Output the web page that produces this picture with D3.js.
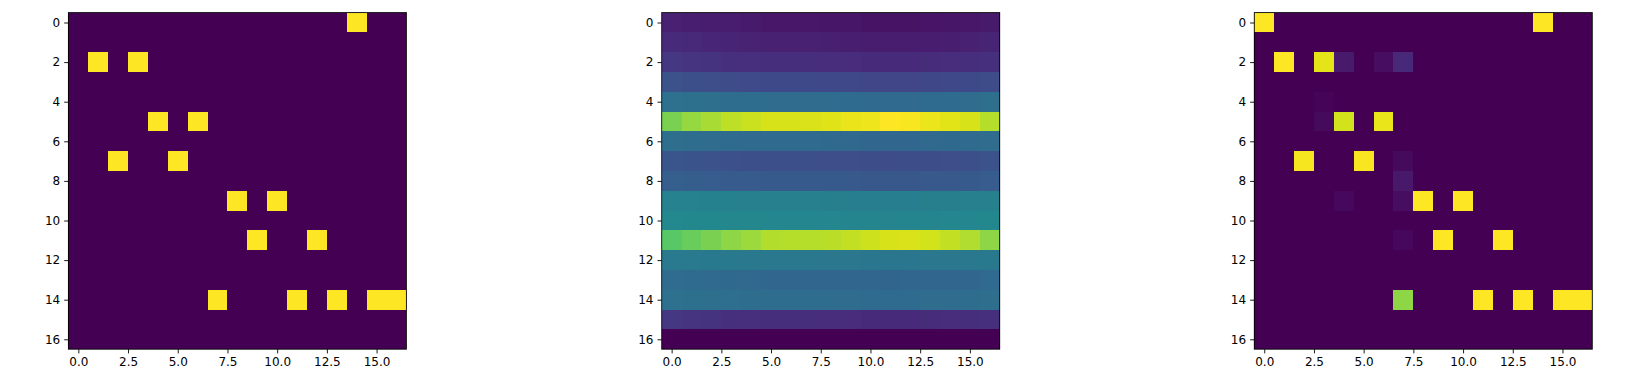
<!DOCTYPE html>
<html>
<head>
<meta charset="utf-8">
<script src="https://cdn.jsdelivr.net/npm/d3@7"></script>
<style>
  html, body { margin: 0; padding: 0; background: #fff; }
  svg { display: block; }
  .tick text { font-family: "DejaVu Sans", sans-serif; font-size: 12px; fill: #000; }
</style>
</head>
<body>
<svg id="chart" width="1644" height="383"></svg>
<script>
// ---- data ----
const N = 17;
const rowIndex = d3.range(N);          // matrix rows 0..16
const colIndex = d3.range(N);          // matrix columns 0..16
const xTickValues = [0, 2.5, 5, 7.5, 10, 12.5, 15];
const yTickValues = [0, 2, 4, 6, 8, 10, 12, 14, 16];

// Panel 1: binary matrix, non-zero cells as [row, col, value]
const leftCells = [
  [0, 14, 1],
  [2, 1, 1], [2, 3, 1],
  [5, 4, 1], [5, 6, 1],
  [7, 2, 1], [7, 5, 1],
  [9, 8, 1], [9, 10, 1],
  [11, 9, 1], [11, 12, 1],
  [14, 7, 1], [14, 11, 1], [14, 13, 1], [14, 15, 1], [14, 16, 1]
];

// Panel 2: dense matrix (row by row)
const middleRows = [
  [0.090,0.085,0.080,0.075,0.070,0.060,0.060,0.060,0.058,0.055,0.050,0.048,0.050,0.052,0.055,0.060,0.070],
  [0.120,0.110,0.105,0.100,0.095,0.090,0.090,0.090,0.088,0.085,0.080,0.078,0.080,0.082,0.085,0.090,0.100],
  [0.160,0.150,0.145,0.140,0.135,0.130,0.130,0.130,0.128,0.125,0.120,0.118,0.120,0.122,0.125,0.130,0.140],
  [0.250,0.240,0.235,0.230,0.225,0.220,0.220,0.220,0.218,0.215,0.210,0.208,0.210,0.212,0.215,0.220,0.230],
  [0.370,0.365,0.360,0.355,0.352,0.350,0.350,0.350,0.348,0.345,0.342,0.340,0.342,0.344,0.346,0.350,0.360],
  [0.800,0.840,0.870,0.900,0.920,0.940,0.940,0.945,0.950,0.965,0.975,1.000,0.990,0.970,0.955,0.940,0.890],
  [0.360,0.355,0.350,0.345,0.342,0.340,0.340,0.340,0.338,0.335,0.332,0.330,0.332,0.334,0.336,0.340,0.350],
  [0.260,0.255,0.250,0.245,0.242,0.240,0.240,0.240,0.238,0.235,0.232,0.230,0.232,0.234,0.236,0.240,0.250],
  [0.300,0.295,0.290,0.285,0.282,0.280,0.280,0.280,0.278,0.275,0.272,0.270,0.272,0.274,0.276,0.280,0.290],
  [0.440,0.438,0.436,0.434,0.432,0.430,0.430,0.430,0.428,0.426,0.424,0.422,0.424,0.426,0.428,0.430,0.435],
  [0.470,0.468,0.466,0.464,0.462,0.460,0.460,0.460,0.458,0.456,0.454,0.452,0.454,0.456,0.458,0.460,0.465],
  [0.740,0.770,0.800,0.830,0.850,0.885,0.890,0.890,0.895,0.910,0.925,0.940,0.945,0.930,0.910,0.880,0.830],
  [0.410,0.408,0.406,0.404,0.402,0.400,0.400,0.400,0.398,0.396,0.394,0.392,0.394,0.396,0.398,0.400,0.405],
  [0.350,0.345,0.342,0.338,0.335,0.332,0.332,0.332,0.330,0.328,0.326,0.324,0.326,0.328,0.330,0.332,0.340],
  [0.370,0.365,0.362,0.358,0.355,0.352,0.352,0.352,0.350,0.348,0.346,0.344,0.346,0.348,0.350,0.352,0.360],
  [0.160,0.150,0.145,0.140,0.135,0.130,0.130,0.130,0.128,0.125,0.120,0.118,0.120,0.122,0.125,0.130,0.140],
  [0.000,0.000,0.000,0.000,0.000,0.000,0.000,0.000,0.000,0.000,0.000,0.000,0.000,0.000,0.000,0.000,0.000]
];

// Panel 3: mostly zero matrix, non-zero cells as [row, col, value]
const rightCells = [
  [0, 0, 1.00], [0, 14, 1.00],
  [2, 1, 1.00], [2, 3, 0.96], [2, 4, 0.07], [2, 6, 0.035], [2, 7, 0.11],
  [4, 3, 0.01],
  [5, 3, 0.025], [5, 4, 0.93], [5, 6, 0.965],
  [7, 2, 0.985], [7, 5, 0.99], [7, 7, 0.025],
  [8, 7, 0.065],
  [9, 4, 0.02], [9, 7, 0.035], [9, 8, 1.00], [9, 10, 1.00],
  [11, 7, 0.02], [11, 9, 1.00], [11, 12, 1.00],
  [14, 7, 0.83], [14, 11, 1.00], [14, 13, 1.00], [14, 15, 1.00], [14, 16, 1.00]
];

// ---- helpers ----
function sparseToMatrix(cells) {
  const m = rowIndex.map(() => colIndex.map(() => 0));
  cells.forEach(([r, c, v]) => { m[r][c] = v; });
  return m;
}

const panels = [
  { matrix: sparseToMatrix(leftCells),  x0: 68.4 },
  { matrix: middleRows,                 x0: 661.7 },
  { matrix: sparseToMatrix(rightCells), x0: 1254.3 }
];

const plotW = 338, plotH = 336.6, y0 = 12.6;
const svg = d3.select("#chart");

panels.forEach(p => {
  const g = svg.append("g").attr("transform", `translate(${p.x0},${y0})`);
  const x = d3.scaleLinear().domain([-0.5, N - 0.5]).range([0, plotW]);
  const y = d3.scaleLinear().domain([-0.5, N - 0.5]).range([0, plotH]);
  const flat = p.matrix.flat();
  const color = d3.scaleSequential(d3.interpolateViridis).domain(d3.extent(flat));

  const cells = [];
  p.matrix.forEach((row, r) => row.forEach((v, c) => cells.push({ r, c, v })));

  g.append("g").attr("shape-rendering", "crispEdges")
    .selectAll("rect").data(cells).join("rect")
    .attr("x", d => x(d.c - 0.5))
    .attr("y", d => y(d.r - 0.5))
    .attr("width", d => x(d.c + 0.5) - x(d.c - 0.5) + (d.c < N - 1 ? 1 : 0))
    .attr("height", d => y(d.r + 0.5) - y(d.r - 0.5) + (d.r < N - 1 ? 1 : 0))
    .attr("fill", d => color(d.v));

  // axes
  const xAxis = d3.axisBottom(x).tickValues(xTickValues).tickFormat(d3.format(".1f"))
    .tickSizeInner(4.2).tickSizeOuter(0).tickPadding(4);
  const yAxis = d3.axisLeft(y).tickValues(yTickValues).tickFormat(d3.format("d"))
    .tickSizeInner(4.2).tickSizeOuter(0).tickPadding(4);

  const gx = g.append("g").attr("transform", `translate(0,${plotH})`).call(xAxis);
  const gy = g.append("g").call(yAxis);
  [gx, gy].forEach(a => {
    a.select(".domain").remove();
    a.selectAll(".tick line").attr("stroke", "#000").attr("stroke-width", 0.9);
  });
  gx.selectAll(".tick text").attr("dy", "0.75em");

  // frame (spines)
  g.append("rect")
    .attr("x", 0).attr("y", 0).attr("width", plotW).attr("height", plotH)
    .attr("fill", "none").attr("stroke", "#000").attr("stroke-width", 0.9);
});
</script>
</body>
</html>
